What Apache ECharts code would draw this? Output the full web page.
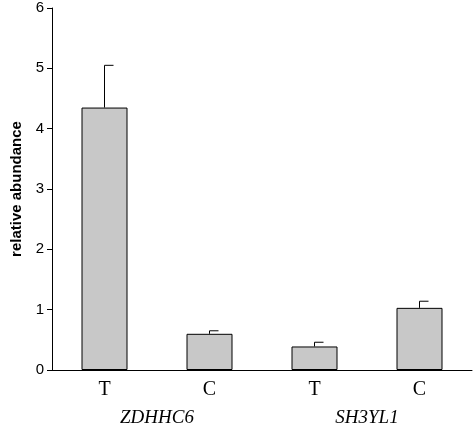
<!DOCTYPE html>
<html><head><meta charset="utf-8">
<script src="https://cdn.jsdelivr.net/npm/echarts@6/dist/echarts.min.js"></script>
<style>html,body{margin:0;padding:0;background:#fff}#c{width:474px;height:434px}</style>
</head><body><div id="c"></div>
<script>
const categories = ['T','C','T','C'];
const genes = ['ZDHHC6','SH3YL1'];
const values = [4.35, 0.6, 0.39, 1.03];
const errors = [0.7, 0.05, 0.07, 0.11];
const yTicks = [0,1,2,3,4,5,6];

const chart = echarts.init(document.getElementById('c'));
chart.setOption({
  animation:false,
  grid:{left:52,right:2,top:8,bottom:64},
  xAxis:[{
    type:'category',data:categories,
    axisLine:{lineStyle:{color:'#000',width:1}},
    axisTick:{show:false},
    axisLabel:{fontFamily:'Liberation Serif',fontSize:20,color:'#000',margin:10}
  },{
    type:'category',data:genes,position:'bottom',offset:30,
    axisLine:{show:false},axisTick:{show:false},
    axisLabel:{fontFamily:'Liberation Serif',fontStyle:'italic',fontSize:19,color:'#000'}
  }],
  yAxis:{
    type:'value',min:0,max:6,interval:1,
    name:'relative abundance',nameLocation:'middle',nameGap:28,
    nameTextStyle:{fontFamily:'Liberation Sans',fontWeight:'bold',fontSize:15,color:'#000'},
    axisLine:{show:true,lineStyle:{color:'#000'}},
    axisTick:{show:true,length:5,lineStyle:{color:'#000'}},
    splitLine:{show:false},
    axisLabel:{fontFamily:'Liberation Sans',fontSize:15,color:'#000',margin:8,
      formatter:v=>yTicks.includes(v)?String(v):''}
  },
  series:[{
    type:'bar',data:values,barWidth:46,
    itemStyle:{color:'#c8c8c8',borderColor:'#000',borderWidth:1}
  },{
    type:'custom',
    data:values.map((v,i)=>[i,v,v+errors[i]]),
    renderItem:(params,api)=>{
      const b=api.coord([api.value(0),api.value(1)]);
      const t=api.coord([api.value(0),api.value(2)]);
      return {type:'group',children:[
        {type:'line',shape:{x1:b[0],y1:b[1],x2:t[0],y2:t[1]},style:{stroke:'#000',lineWidth:1}},
        {type:'line',shape:{x1:t[0],y1:t[1],x2:t[0]+9,y2:t[1]},style:{stroke:'#000',lineWidth:1}}
      ]};
    },
    z:3
  }]
});
</script></body></html>
